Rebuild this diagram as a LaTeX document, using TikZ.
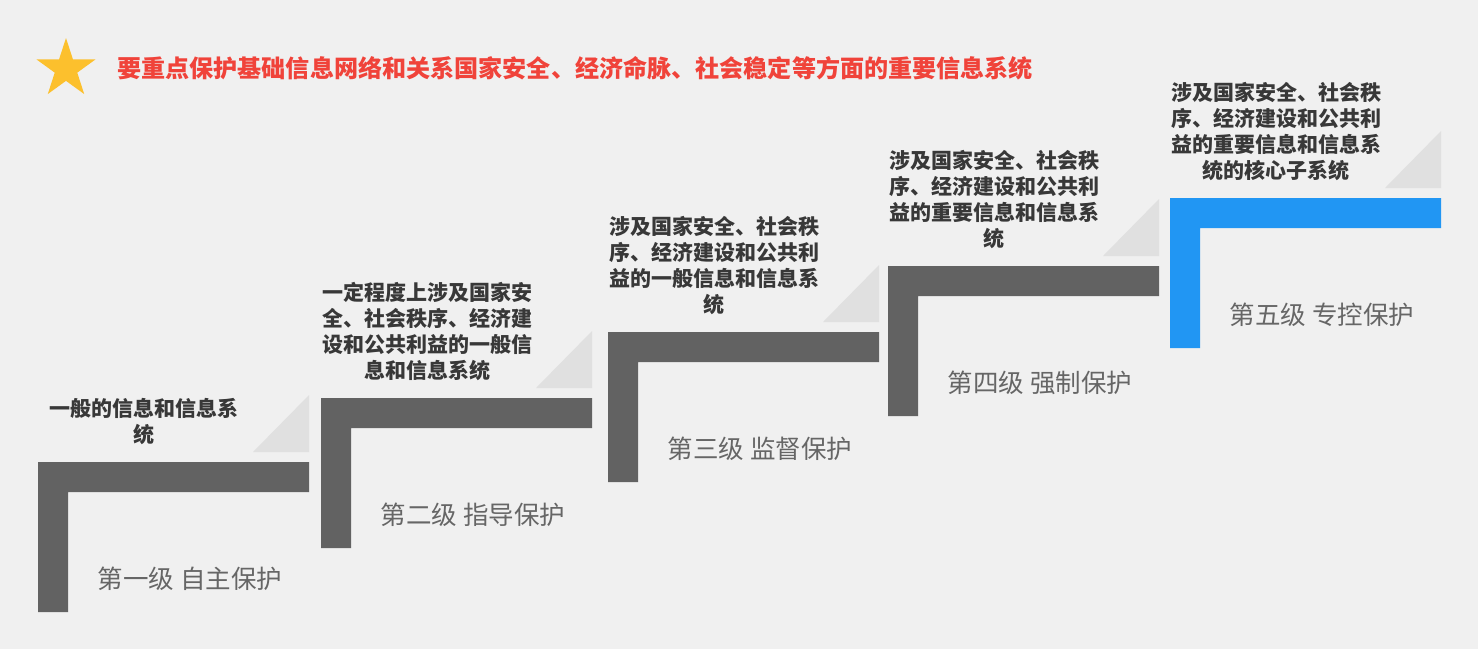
\documentclass[tikz,border=0pt]{standalone}
\usepackage{fontspec}
\setmainfont{Noto Sans CJK SC}
\usetikzlibrary{shapes.geometric}
\definecolor{bgc}{RGB}{240,240,240}
\definecolor{barc}{RGB}{98,98,98}
\definecolor{bluec}{RGB}{33,150,243}
\definecolor{tric}{RGB}{224,224,224}
\definecolor{descc}{RGB}{56,56,56}
\definecolor{labc}{RGB}{102,102,102}
\definecolor{titlec}{RGB}{240,67,58}
\definecolor{starc}{RGB}{252,192,45}
\tikzset{
  tri/.style={fill=tric},
  levellabel/.style={inner sep=0pt, text=labc, font=\fontsize{25.5}{28}\selectfont},
  desc/.style={inner sep=0pt, align=center, text=descc, font=\fontsize{21}{26}\selectfont\bfseries},
}
\newcommand\stairstep[6]{%
  \fill[#4] (#2,#3) -- ({#2+271},#3) -- ({#2+271},{#3+30}) -- ({#2+30},{#3+30}) -- ({#2+30},{#3+150}) -- (#2,{#3+150}) -- cycle;
  \fill[tri] ({#2+215},{#3-10}) -- ({#2+271},{#3-10}) -- ({#2+271},{#3-67}) -- cycle;
  \node[levellabel] (#1-label) at ({#2+152},{#3+117}) {#5};
  \node[desc, anchor=south] (#1-desc) at ({#2+106},{#3-17}) {#6};
}
\begin{document}
\begin{tikzpicture}[x=1pt,y=-1pt]
\useasboundingbox (0,0) rectangle (1478,649);
\fill[bgc] (0,0) rectangle (1478,649);
\node[star, star points=5, star point ratio=2.618, minimum size=62pt, inner sep=0pt, fill=starc] (star) at (66,69) {};
\node[anchor=west, inner sep=0pt, text=titlec, font=\fontsize{24.1}{26}\selectfont\bfseries] (title) at (117,68)
  {要重点保护基础信息网络和关系国家安全、经济命脉、社会稳定等方面的重要信息系统};
\stairstep{s1}{38}{462}{barc}{第一级 自主保护}{一般的信息和信息系\\统}
\stairstep{s2}{321}{398}{barc}{第二级 指导保护}{一定程度上涉及国家安\\全、社会秩序、经济建\\设和公共利益的一般信\\息和信息系统}
\stairstep{s3}{608}{332}{barc}{第三级 监督保护}{涉及国家安全、社会秩\\序、经济建设和公共利\\益的一般信息和信息系\\统}
\stairstep{s4}{888}{266}{barc}{第四级 强制保护}{涉及国家安全、社会秩\\序、经济建设和公共利\\益的重要信息和信息系\\统}
\stairstep{s5}{1170}{198}{bluec}{第五级 专控保护}{涉及国家安全、社会秩\\序、经济建设和公共利\\益的重要信息和信息系\\统的核心子系统}
\end{tikzpicture}
\end{document}
